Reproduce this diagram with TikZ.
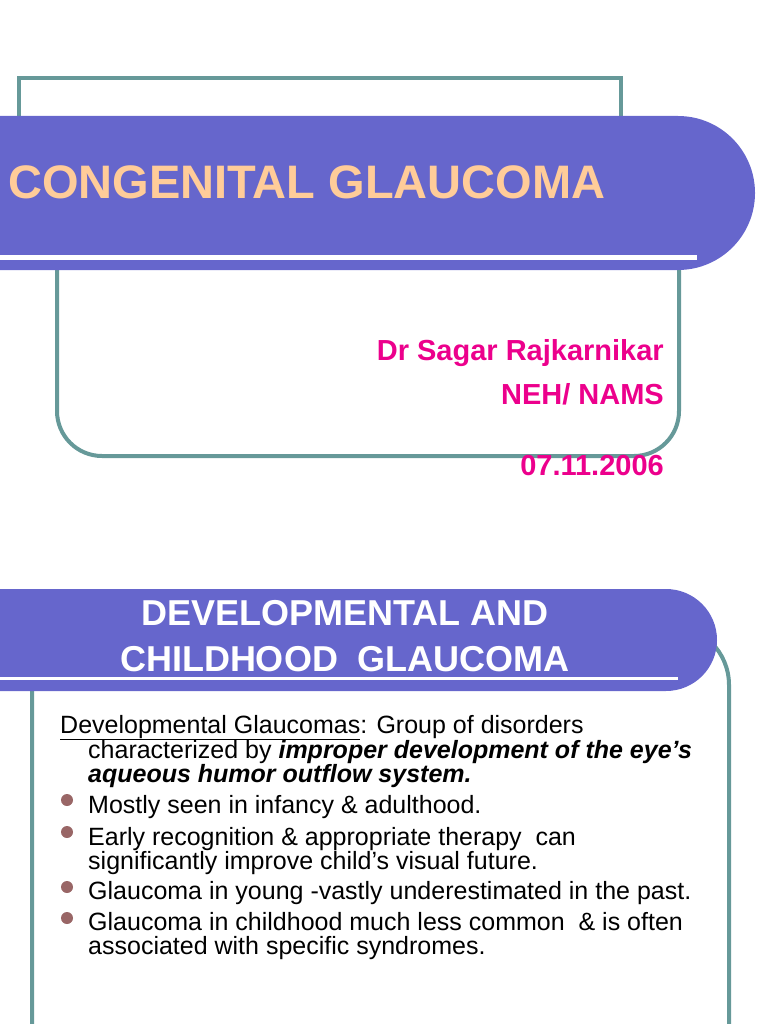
\documentclass[tikz,border=0pt]{standalone}
\usepackage{fontspec}
\setmainfont{Liberation Sans}
\definecolor{barblue}{HTML}{6666CC}
\definecolor{frameteal}{HTML}{669999}
\definecolor{titlepeach}{HTML}{FFCC99}
\definecolor{dotbrown}{HTML}{996666}
\tikzset{
  frameline/.style={draw=frameteal, line width=4pt},
  headbar/.style={fill=barblue},
  whiteline/.style={fill=white},
  titletext/.style={anchor=base west, inner sep=0pt, text=titlepeach, font=\fontsize{47}{47}\selectfont\bfseries},
  authortext/.style={anchor=base east, inner sep=0pt, text=magenta, font=\fontsize{29}{29}\selectfont\bfseries},
  headtext/.style={anchor=base, inner sep=0pt, text=white, font=\fontsize{36}{36}\selectfont\bfseries},
  bodytext/.style={anchor=base west, inner sep=0pt, text=black, font=\fontsize{25}{25}\selectfont},
  dot/.style={circle, fill=dotbrown, inner sep=0pt, minimum size=12pt}
}
\begin{document}
\begin{tikzpicture}[x=1pt, y=-1pt]
\clip (0,0) rectangle (768,1024);
% first slide
\draw[frameline] (19,120) -- (19,78) -- (621,78) -- (621,120);
\draw[frameline, rounded corners=45pt] (57,200) -- (57,456) -- (679,456) -- (679,200);
\fill[headbar, rounded corners=77pt] (-200,116) rectangle (755,270);
\fill[whiteline] (-5,255) rectangle (697,260);
\node[titletext] (title) at (8,199) {CONGENITAL GLAUCOMA};
\node[authortext] (author) at (664,360) {Dr Sagar Rajkarnikar};
\node[authortext] (place) at (664,404) {NEH/ NAMS};
\node[authortext] (date) at (664,475) {07.11.2006};
% second slide
\draw[frameline, rounded corners=60pt] (32,1040) -- (32,625) -- (729,625) -- (729,1040);
\fill[headbar, rounded corners=51pt] (-200,589) rectangle (717,691);
\fill[whiteline] (-5,677) rectangle (678,680);
\node[headtext] (head_1) at (345,625) {DEVELOPMENTAL AND};
\node[headtext] (head_2) at (345,671) {CHILDHOOD\ \ GLAUCOMA};
\node[bodytext] (line_1) at (60,733) {\underline{Developmental Glaucomas}: Group of disorders};
\node[bodytext] (line_2) at (88,758) {characterized by \textbf{\textit{improper development of the eye’s}}};
\node[bodytext] (line_3) at (88,782) {\textbf{\textit{aqueous humor outflow system.}}};
\node[dot] (dot_1) at (67,800) {};
\node[bodytext] (line_4) at (88,813) {Mostly seen in infancy \& adulthood.};
\node[dot] (dot_2) at (67,832) {};
\node[bodytext] (line_5) at (88,845) {Early recognition \& appropriate therapy\ \ can};
\node[bodytext] (line_6) at (88,869) {significantly improve child’s visual future.};
\node[dot] (dot_3) at (67,887) {};
\node[bodytext] (line_7) at (88,899) {Glaucoma in young -vastly underestimated in the past.};
\node[dot] (dot_4) at (67,918) {};
\node[bodytext] (line_8) at (88,930) {Glaucoma in childhood much less common\ \ \& is often};
\node[bodytext] (line_9) at (88,954) {associated with specific syndromes.};
\end{tikzpicture}
\end{document}
